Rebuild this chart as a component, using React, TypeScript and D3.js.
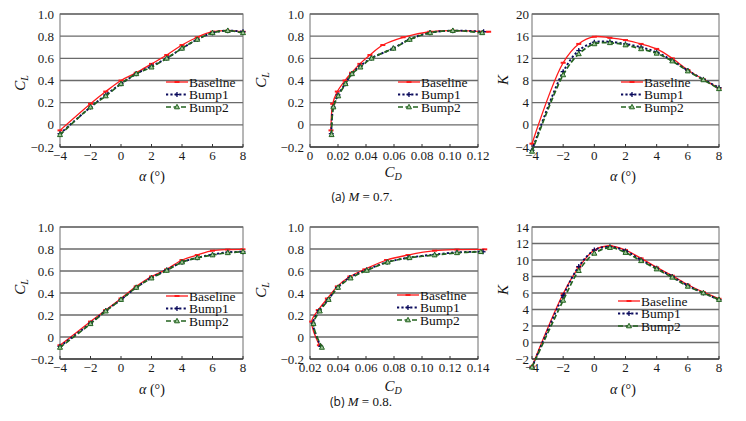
import React from 'react';
import * as d3 from 'd3';

// angle of attack stations shared by every series
const alpha = [-4, -2, -1, 0, 1, 2, 3, 4, 5, 6, 7, 8];

// M = 0.7
const clBase07 = [-0.05, 0.19, 0.3, 0.4, 0.47, 0.55, 0.63, 0.72, 0.79, 0.84, 0.85, 0.84];
const clBump1_07 = [-0.08, 0.16, 0.27, 0.37, 0.46, 0.53, 0.6, 0.69, 0.77, 0.83, 0.85, 0.84];
const clBump2_07 = [-0.09, 0.16, 0.26, 0.37, 0.46, 0.52, 0.6, 0.69, 0.77, 0.83, 0.85, 0.83];
const cdBase07 = [0.015, 0.0162, 0.0195, 0.025, 0.0297, 0.0356, 0.0428, 0.052, 0.0665, 0.0856, 0.102, 0.1276];
const cdBump1_07 = [0.0152, 0.0166, 0.02, 0.0252, 0.0298, 0.0358, 0.0437, 0.0594, 0.071, 0.0856, 0.102, 0.124];
const cdBump2_07 = [0.0154, 0.0167, 0.0202, 0.0254, 0.03, 0.036, 0.044, 0.0596, 0.0712, 0.0858, 0.102, 0.123];
const kBase07 = [-3.4, 11.2, 14.6, 15.9, 15.7, 15.3, 14.6, 13.7, 12.0, 9.9, 8.2, 6.6];
const kBump1_07 = [-4.6, 9.6, 13.4, 14.9, 15.0, 14.6, 14.0, 13.1, 11.6, 9.8, 8.2, 6.7];
const kBump2_07 = [-4.8, 9.0, 12.8, 14.6, 14.8, 14.4, 13.7, 12.9, 11.5, 9.7, 8.1, 6.5];

// M = 0.8
const clBase08 = [-0.075, 0.14, 0.245, 0.35, 0.46, 0.55, 0.615, 0.7, 0.745, 0.785, 0.795, 0.797];
const clBump1_08 = [-0.085, 0.125, 0.24, 0.34, 0.45, 0.54, 0.61, 0.68, 0.72, 0.75, 0.77, 0.775];
const clBump2_08 = [-0.095, 0.12, 0.235, 0.34, 0.45, 0.535, 0.605, 0.68, 0.72, 0.745, 0.765, 0.775];
const cdBase08 = [0.0267, 0.0212, 0.0259, 0.0324, 0.0395, 0.0485, 0.0592, 0.0747, 0.09, 0.109, 0.125, 0.1448];
const cdBump1_08 = [0.0277, 0.0222, 0.0265, 0.033, 0.0397, 0.0485, 0.0604, 0.0751, 0.09, 0.109, 0.125, 0.1436];
const cdBump2_08 = [0.0285, 0.0225, 0.027, 0.0333, 0.04, 0.049, 0.0606, 0.0755, 0.091, 0.109, 0.125, 0.142];
const kBase08 = [-2.9, 5.9, 9.1, 11.2, 11.7, 11.2, 10.2, 9.1, 8.1, 7.0, 6.1, 5.3];
const kBump1_08 = [-3.0, 5.7, 9.2, 11.2, 11.6, 11.1, 10.0, 9.0, 8.0, 6.9, 6.0, 5.2];
const kBump2_08 = [-3.0, 5.1, 8.7, 10.8, 11.5, 10.9, 9.9, 8.9, 7.9, 6.8, 6.0, 5.2];

const seriesNames = ['Baseline', 'Bump1', 'Bump2'];

const alphaTicks = [-4, -2, 0, 2, 4, 6, 8];
const clTicks = [-0.2, 0, 0.2, 0.4, 0.6, 0.8, 1.0];
const cdTicks07 = [0, 0.02, 0.04, 0.06, 0.08, 0.1, 0.12];
const cdTicks08 = [0.02, 0.04, 0.06, 0.08, 0.1, 0.12, 0.14];
const kTicks07 = [-4, 0, 4, 8, 12, 16, 20];
const kTicks08 = [-2, 0, 2, 4, 6, 8, 10, 12, 14];

const styles = [
  { color: '#ff1a1a', dash: 'none', width: 1.3, marker: 'dash' },
  { color: '#0a0a5c', dash: '2.2,2.2', width: 1.9, marker: 'plus' },
  { color: '#23631f', dash: '5,2.5', width: 1.7, marker: 'tri' },
];

const SERIF = '"Liberation Serif", "Times New Roman", serif';
const fmt1 = d3.format('.1f');
const fmt2 = d3.format('.2f');
const clFmt = (v: number) => (v === 0 ? '0' : fmt1(v));
const cdFmt = (v: number) => (v === 0 ? '0' : fmt2(v));
const intFmt = d3.format('d');

function Marker({ kind, x, y, color }: { kind: string; x: number; y: number; color: string }) {
  if (kind === 'dash') {
    return <line x1={x - 2.5} x2={x + 2.5} y1={y} y2={y} stroke={color} strokeWidth={2} />;
  }
  if (kind === 'plus') {
    return (
      <g stroke={color} strokeWidth={1.3}>
        <line x1={x - 2.5} x2={x + 2.5} y1={y} y2={y} />
        <line x1={x} x2={x} y1={y - 2.5} y2={y + 2.5} />
      </g>
    );
  }
  return (
    <path
      d={`M${x},${y - 2.7}L${x + 2.5},${y + 1.8}L${x - 2.5},${y + 1.8}Z`}
      fill="#9fc79a"
      stroke={color}
      strokeWidth={1}
    />
  );
}

type PanelProps = {
  left: number; right: number; top: number; bottom: number;
  xDomain: [number, number]; yDomain: [number, number];
  xTicks: number[]; yTicks: number[];
  xFormat: (v: number) => string; yFormat: (v: number) => string;
  xs: number[][]; ys: number[][];
  legendX: number; legendY: number; legendGap: number;
  yTitle: 'CL' | 'K'; yTitleX: number; yTitleY: number; yLabelGap: number;
  xTitle: 'alpha' | 'CD'; xTitleX: number; xTitleY: number;
};

function Panel(p: PanelProps) {
  const x = d3.scaleLinear().domain(p.xDomain).range([p.left, p.right]);
  const y = d3.scaleLinear().domain(p.yDomain).range([p.bottom, p.top]);
  const line = d3
    .line<[number, number]>()
    .x((d) => x(d[0]))
    .y((d) => y(d[1]))
    .curve(d3.curveCatmullRom.alpha(0.5));

  return (
    <g>
      {p.yTicks.map((t) => (
        <line key={'g' + t} x1={p.left} x2={p.right} y1={y(t)} y2={y(t)} stroke="#6a6a6a" strokeWidth={1.3} />
      ))}
      <rect x={p.left} y={p.top} width={p.right - p.left} height={p.bottom - p.top} fill="none" stroke="#6e6e6e" strokeWidth={1} />
      <line x1={p.left} x2={p.right} y1={p.bottom} y2={p.bottom} stroke="#333" strokeWidth={1} />
      {p.xTicks.map((t) => (
        <g key={'x' + t}>
          <line x1={x(t)} x2={x(t)} y1={p.bottom} y2={p.bottom - 3} stroke="#333" />
          <text x={x(t)} y={p.bottom + 13} textAnchor="middle" fontFamily={SERIF} fontSize={13} fill="#1a1a1a">
            {p.xFormat(t)}
          </text>
        </g>
      ))}
      {p.yTicks.map((t) => (
        <text key={'y' + t} x={p.left - p.yLabelGap} y={y(t) + 4.5} textAnchor="end" fontFamily={SERIF} fontSize={13} fill="#1a1a1a">
          {p.yFormat(t)}
        </text>
      ))}

      {p.xs.map((xv, si) => {
        const pts = xv.map((v, i) => [v, p.ys[si][i]] as [number, number]);
        const s = styles[si];
        return (
          <g key={'s' + si}>
            <path d={line(pts) || ''} fill="none" stroke={s.color} strokeWidth={s.width} strokeDasharray={s.dash} />
            {pts.map((d, i) => (
              <Marker key={i} kind={s.marker} x={x(d[0])} y={y(d[1])} color={s.color} />
            ))}
          </g>
        );
      })}

      {seriesNames.map((name, i) => {
        const ly = p.legendY + i * p.legendGap;
        const s = styles[i];
        return (
          <g key={name}>
            <line x1={p.legendX} x2={p.legendX + 22} y1={ly} y2={ly} stroke={s.color} strokeWidth={s.width} strokeDasharray={s.dash} />
            <Marker kind={s.marker} x={p.legendX + 11} y={ly} color={s.color} />
            <text x={p.legendX + 23} y={ly + 4.5} fontFamily={SERIF} fontSize={13.5} fill="#111">
              {name}
            </text>
          </g>
        );
      })}

      <text
        transform={`translate(${p.yTitleX},${p.yTitleY}) rotate(-90)`}
        textAnchor="middle"
        fontFamily={SERIF}
        fontSize={15}
        fill="#111"
      >
        {p.yTitle === 'CL' ? (
          <>
            <tspan fontStyle="italic">C</tspan>
            <tspan fontStyle="italic" fontSize={10} dy={3}>L</tspan>
          </>
        ) : (
          <tspan fontStyle="italic">K</tspan>
        )}
      </text>
      <text x={p.xTitleX} y={p.xTitleY} textAnchor="middle" fontFamily={SERIF} fontSize={14} fill="#111">
        {p.xTitle === 'alpha' ? (
          <>
            <tspan fontStyle="italic">α</tspan>
            <tspan> (°)</tspan>
          </>
        ) : (
          <>
            <tspan fontStyle="italic" fontSize={15}>C</tspan>
            <tspan fontStyle="italic" fontSize={10} dy={3}>D</tspan>
          </>
        )}
      </text>
    </g>
  );
}

function Caption({ x, y, label, mach }: { x: number; y: number; label: string; mach: string }) {
  return (
    <text x={x} y={y} textAnchor="middle" fontSize={13} fill="#111">
      <tspan fontFamily='"Open Sans", "Noto Sans", sans-serif' fontSize={12}>{label}</tspan>
      <tspan fontFamily={SERIF} fontStyle="italic"> M</tspan>
      <tspan fontFamily={SERIF}> = {mach}.</tspan>
    </text>
  );
}

export default function App() {
  const top1 = 14, bot1 = 147, top2 = 227, bot2 = 359;
  return (
    <svg width={746} height={421} style={{ position: 'absolute', left: 0, top: 0, background: '#fff' }}>
      <Panel
        left={60} right={243} top={top1} bottom={bot1}
        xDomain={[-4, 8]} yDomain={[-0.2, 1.0]} xTicks={alphaTicks} yTicks={clTicks}
        xFormat={intFmt} yFormat={clFmt}
        xs={[alpha, alpha, alpha]} ys={[clBase07, clBump1_07, clBump2_07]}
        legendX={166} legendY={82} legendGap={12.5}
        yTitle="CL" yTitleX={25} yTitleY={83} yLabelGap={6}
        xTitle="alpha" xTitleX={152} xTitleY={181}
      />
      <Panel
        left={310} right={478} top={top1} bottom={bot1}
        xDomain={[0, 0.12]} yDomain={[-0.2, 1.0]} xTicks={cdTicks07} yTicks={clTicks}
        xFormat={cdFmt} yFormat={clFmt}
        xs={[cdBase07, cdBump1_07, cdBump2_07]} ys={[clBase07, clBump1_07, clBump2_07]}
        legendX={398} legendY={82} legendGap={12.5}
        yTitle="CL" yTitleX={266} yTitleY={80} yLabelGap={6}
        xTitle="CD" xTitleX={393} xTitleY={177}
      />
      <Panel
        left={532} right={719} top={top1} bottom={bot1}
        xDomain={[-4, 8]} yDomain={[-4, 20]} xTicks={alphaTicks} yTicks={kTicks07}
        xFormat={intFmt} yFormat={intFmt}
        xs={[alpha, alpha, alpha]} ys={[kBase07, kBump1_07, kBump2_07]}
        legendX={621} legendY={82} legendGap={12.5}
        yTitle="K" yTitleX={508} yTitleY={80} yLabelGap={3}
        xTitle="alpha" xTitleX={623} xTitleY={181}
      />
      <Caption x={362} y={201} label="(a)" mach="0.7" />

      <Panel
        left={60} right={243} top={top2} bottom={bot2}
        xDomain={[-4, 8]} yDomain={[-0.2, 1.0]} xTicks={alphaTicks} yTicks={clTicks}
        xFormat={intFmt} yFormat={clFmt}
        xs={[alpha, alpha, alpha]} ys={[clBase08, clBump1_08, clBump2_08]}
        legendX={166} legendY={296} legendGap={12.5}
        yTitle="CL" yTitleX={25} yTitleY={287} yLabelGap={6}
        xTitle="alpha" xTitleX={152} xTitleY={394}
      />
      <Panel
        left={310} right={478} top={top2} bottom={bot2}
        xDomain={[0.02, 0.14]} yDomain={[-0.2, 1.0]} xTicks={cdTicks08} yTicks={clTicks}
        xFormat={cdFmt} yFormat={clFmt}
        xs={[cdBase08, cdBump1_08, cdBump2_08]} ys={[clBase08, clBump1_08, clBump2_08]}
        legendX={397} legendY={295} legendGap={12.5}
        yTitle="CL" yTitleX={266} yTitleY={290} yLabelGap={6}
        xTitle="CD" xTitleX={393} xTitleY={391}
      />
      <Panel
        left={532} right={719} top={top2} bottom={bot2}
        xDomain={[-4, 8]} yDomain={[-2, 14]} xTicks={alphaTicks} yTicks={kTicks08}
        xFormat={intFmt} yFormat={intFmt}
        xs={[alpha, alpha, alpha]} ys={[kBase08, kBump1_08, kBump2_08]}
        legendX={618} legendY={301} legendGap={12.5}
        yTitle="K" yTitleX={508} yTitleY={290} yLabelGap={3}
        xTitle="alpha" xTitleX={623} xTitleY={394}
      />
      <Caption x={361} y={406} label="(b)" mach="0.8" />
    </svg>
  );
}
